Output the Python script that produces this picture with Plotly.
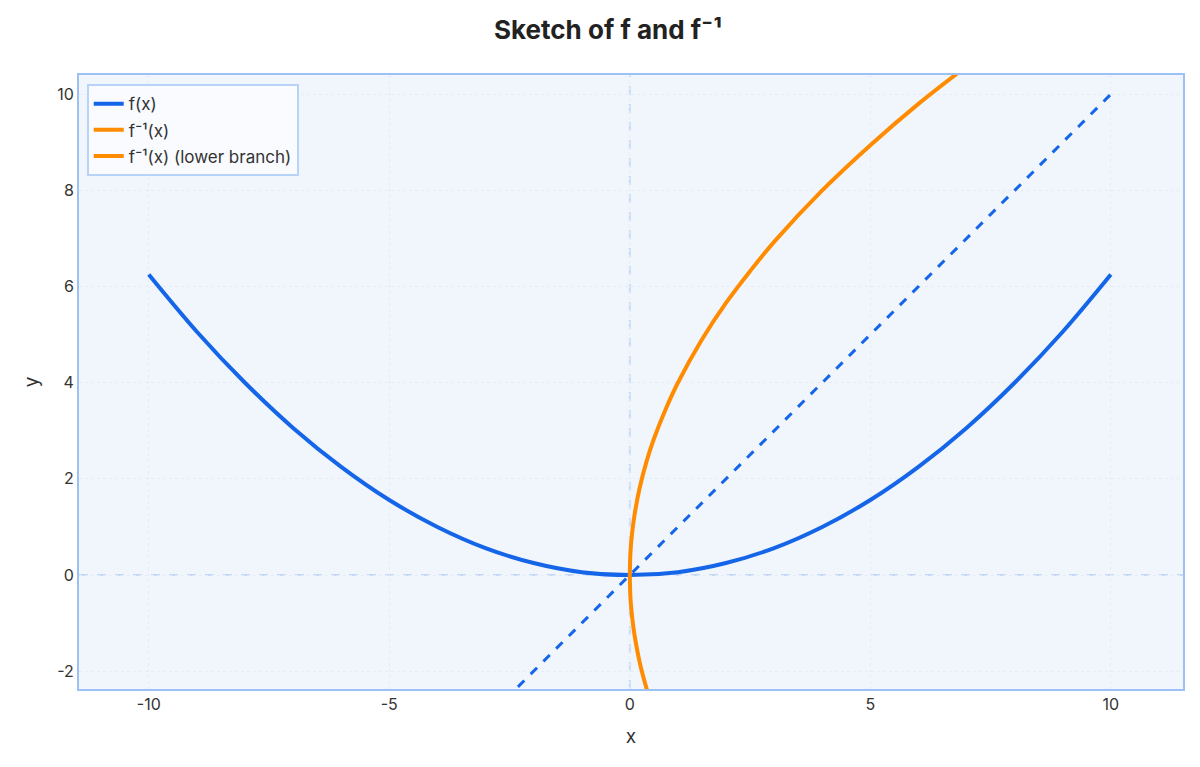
import plotly.graph_objects as go

# values
f_x = [-10, -9, -8, -7, -6, -5, -4, -3, -2, -1, 0, 1, 2, 3, 4, 5, 6, 7, 8, 9, 10]
f_y = [6.25, 5.06, 4.0, 3.06, 2.25, 1.56, 1.0, 0.56, 0.25, 0.06, 0.0,
       0.06, 0.25, 0.56, 1.0, 1.56, 2.25, 3.06, 4.0, 5.06, 6.25]

inv_x = [0, 0.01, 0.02, 0.05, 0.1, 0.2, 0.35, 0.5, 0.75, 1, 1.5, 2, 2.5, 3, 4, 5, 6, 7]
inv_y = [0, 0.4, 0.57, 0.89, 1.26, 1.79, 2.37, 2.83, 3.46, 4.0, 4.9, 5.66, 6.32, 6.93, 8.0, 8.94, 9.8, 10.58]

low_x = [0, 0.01, 0.02, 0.05, 0.1, 0.2, 0.3, 0.4]
low_y = [0, -0.4, -0.57, -0.89, -1.26, -1.79, -2.19, -2.53]

diag_x = [-10, 10]
diag_y = [-10, 10]

x_ticks = [-10, -5, 0, 5, 10]
x_labels = ["-10", "-5", "0", "5", "10"]
y_ticks = [-2, 0, 2, 4, 6, 8, 10]
y_labels = ["-2", "0", "2", "4", "6", "8", "10"]

blue = "#1565e9"
orange = "#ff8c00"
font = "Inter"

fig = go.Figure()

fig.add_trace(go.Scatter(x=f_x, y=f_y, mode="lines", name="f(x)", legendgroup="a",
                         line=dict(color=blue, width=4, shape="spline")))
fig.add_trace(go.Scatter(x=inv_x, y=inv_y, mode="lines", name="f⁻¹(x)", legendgroup="b",
                         line=dict(color=orange, width=4, shape="spline")))
fig.add_trace(go.Scatter(x=low_x, y=low_y, mode="lines", name="f⁻¹(x) (lower branch)", legendgroup="c",
                         line=dict(color=orange, width=4, shape="spline")))
fig.add_trace(go.Scatter(x=diag_x, y=diag_y, mode="lines", showlegend=False,
                         line=dict(color=blue, width=3, dash="dash")))

# dashed zero lines behind the curves
fig.add_hline(y=0, line=dict(color="#c5d9f6", width=2, dash="dash"), layer="below")
fig.add_vline(x=0, line=dict(color="#c5d9f6", width=2, dash="dash"), layer="below")

axis_style = dict(showline=True, linecolor="#9dc1f5", linewidth=2, mirror=True,
                  showgrid=True, gridcolor="#e4ecf7", griddash="dot", gridwidth=1,
                  zeroline=False, ticks="", automargin=False,
                  tickfont=dict(size=16, color="#333", family=font),
                  title_font=dict(size=19, color="#333", family=font))

fig.update_xaxes(range=[-11.45, 11.5], tickvals=x_ticks, ticktext=x_labels, title_text="x",
                 title_standoff=16, **axis_style)
fig.update_yaxes(range=[-2.37, 10.4], tickvals=y_ticks, ticktext=y_labels, title_text="y",
                 title_standoff=14, **axis_style)

fig.update_layout(
    width=1200, height=767,
    title=dict(text="<b>Sketch of f and f⁻¹</b>", x=0.5, xanchor="center",
               y=0.971, yanchor="middle",
               font=dict(size=26, color="#222", family=font)),
    font=dict(family=font),
    plot_bgcolor="#f1f6fd",
    paper_bgcolor="white",
    margin=dict(l=71, r=25, t=67, b=86),
    legend=dict(x=0.007, y=0.985, xanchor="left", yanchor="top", tracegroupgap=1,
                bgcolor="rgba(250,252,255,0.9)", bordercolor="#b8d2f8", borderwidth=2,
                font=dict(size=17, color="#333", family=font)),
)

fig.write_html("out.html")
